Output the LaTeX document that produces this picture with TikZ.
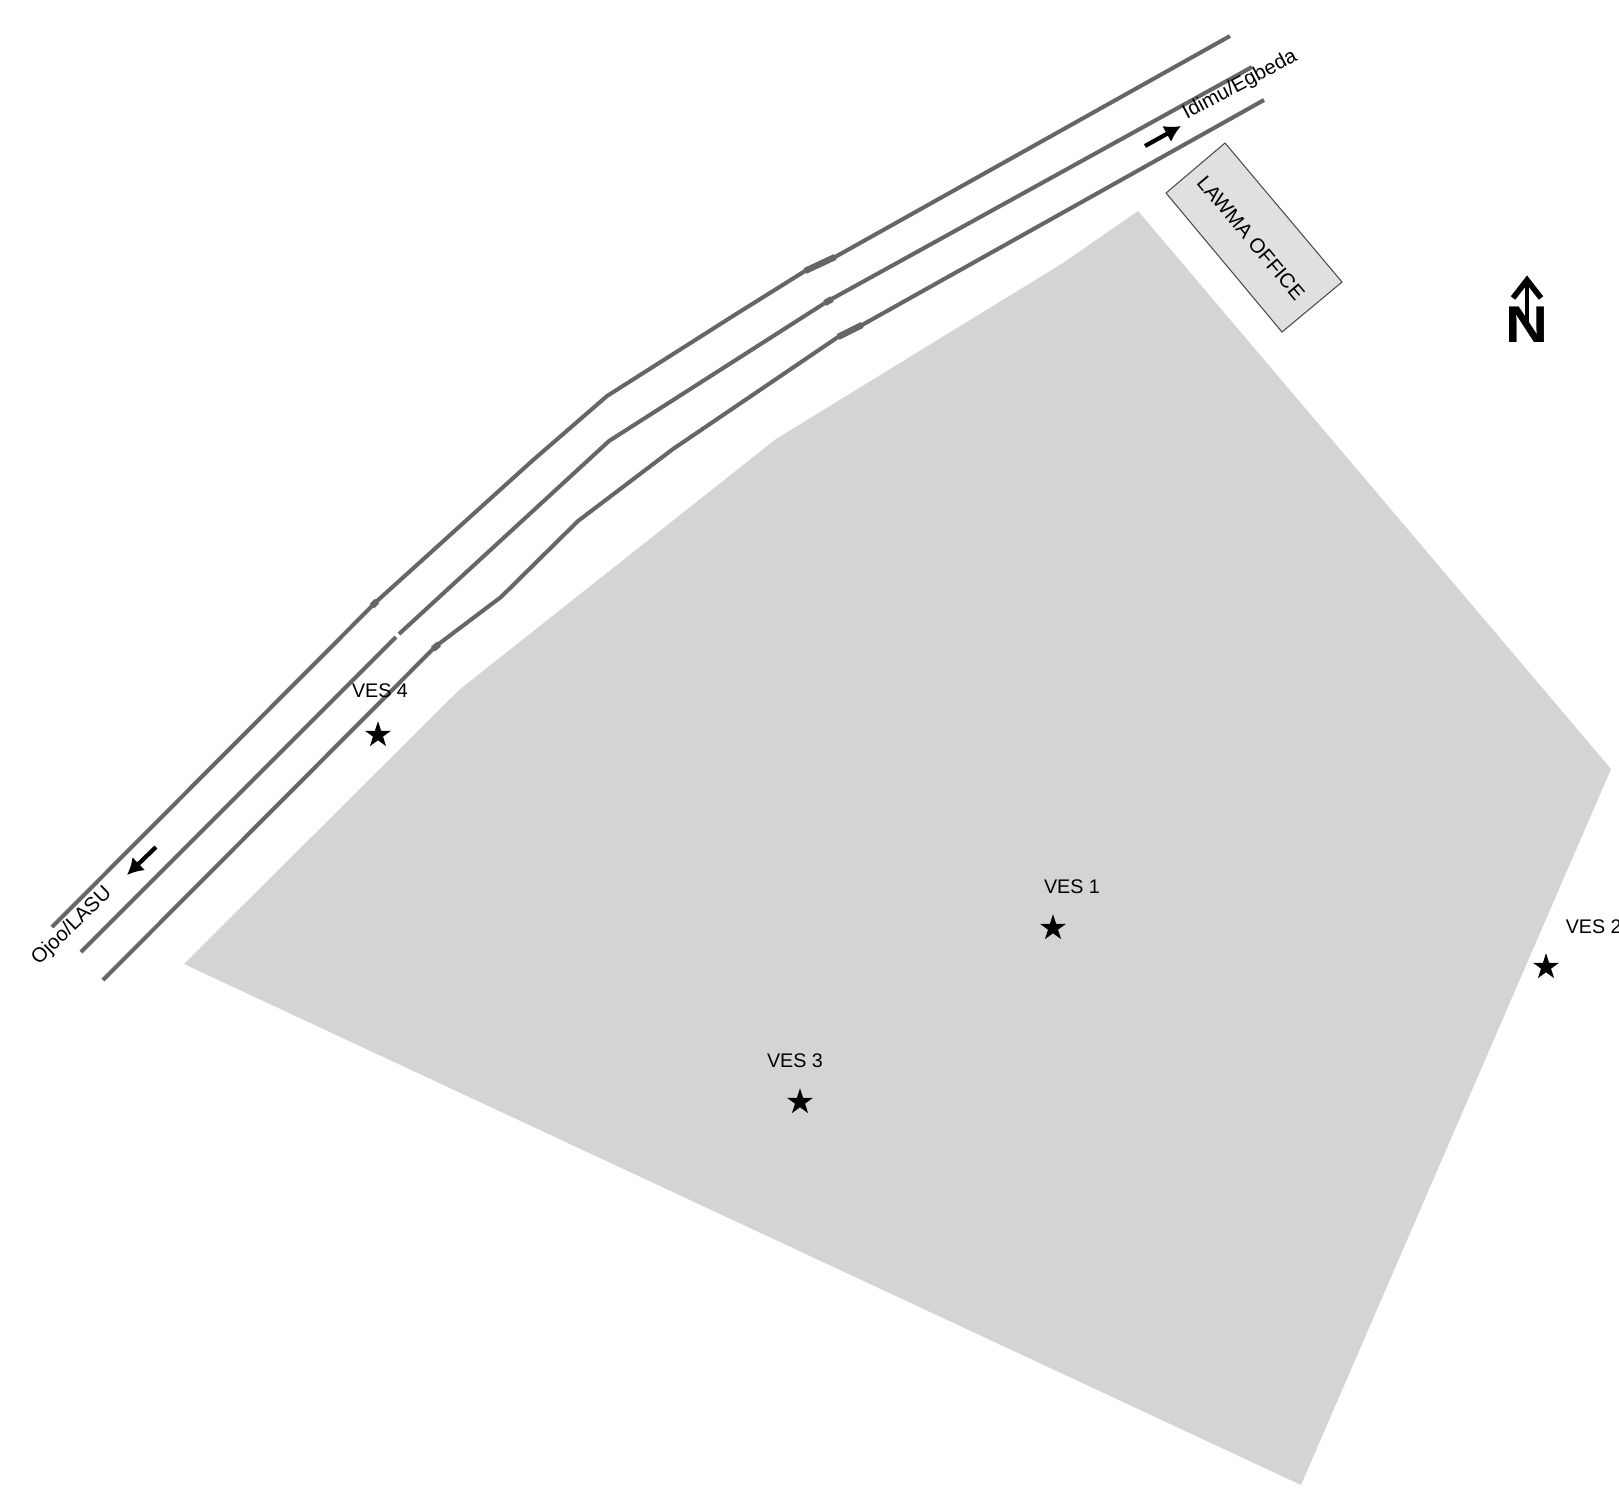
\documentclass[tikz,border=0pt]{standalone}
\usepackage{fontspec}
\setmainfont{Liberation Sans}
\usetikzlibrary{arrows.meta,shapes.geometric}
\tikzset{
  road/.style={draw=black!60,line width=1.15pt},
  roadjoint/.style={draw=black!60,line width=1.8pt},
  vesstar/.style={star,star points=5,star point ratio=2.618,fill=black,inner sep=0pt,minimum size=0.275cm},
  sitelabel/.style={font=\fontsize{5.6}{7}\selectfont,inner sep=0pt},
  maplabel/.style={font=\fontsize{5.8}{7}\selectfont,inner sep=0pt},
  direction/.style={line width=1.2pt,-{Latex[length=4.6pt,width=5.2pt]}}
}
\begin{document}
\begin{tikzpicture}
[x=0.01cm,y=-0.01cm,line width=1pt]
\useasboundingbox (0,0) rectangle (1619,1508);
\fill[black!17] (1138,211)--(1611,769)--(1301,1485)--(184,964)--(459,690)--(776,439)--(1063,263)--cycle; %% Site
\draw[road] (52,927)--(377,601)--(532,461)--(607,396)--(733,316)--(805,271)--(835,257)--(1230,36); %% Road top
\draw[road] (81,952)--(396,637); %% Road middle, south
\draw[road] (399,634)--(609,441)--(828,301)--(1252,67); %% Road middle, north
\draw[road] (103,980)--(436,646)--(501,597)--(578,521)--(673,449)--(838,337)--(862,325)--(1264,100); %% Road bottom
\draw[roadjoint] (805,271)--(835,257); %% Joint top
\draw[roadjoint] (838,337)--(862,325); %% Joint bottom
\draw[roadjoint] (825,303)--(832,299); %% Joint middle
\draw[roadjoint] (372,606)--(377,601); %% Joint top, south
\draw[roadjoint] (433,649)--(439,644); %% Joint bottom, south
\draw[direction] (1145,146)--(1181,126); %% To Idimu
\draw[direction] (156,847)--(127,875); %% To Ojoo
\node[maplabel,rotate=28] (idimu) at (1240,85) {Idimu/Egbeda};
\node[maplabel,rotate=44] (ojoo) at (72,926) {Ojoo/LASU};
\draw[draw=black!70,fill=black!12,line width=0.3pt] (1225,143)--(1342,282)--(1282,332)--(1166,193)--cycle; %% Office
\node[maplabel,rotate=-50] (office) at (1251,238) {LAWMA OFFICE};
\node[vesstar] (star1) at (1053,928) {};
\node[vesstar] (star2) at (1546,967) {};
\node[vesstar] (star3) at (800,1102) {};
\node[vesstar] (star4) at (378,735) {};
\node[sitelabel] (ves1) at (1072,887) {VES 1};
\node[sitelabel,right] (ves2) at (1564,927) {VES 2};
\node[sitelabel] (ves3) at (795,1061) {VES 3};
\node[sitelabel] (ves4) at (380,691) {VES 4};
\node[inner sep=0pt,xscale=1.15,font=\fontsize{14.7}{15}\selectfont\bfseries] (north) at (1526.5,325) {N};
\draw[line width=1.2pt] (1527,323)--(1527,280); %% North shaft
\draw[line width=1.6pt,miter limit=10] (1513,298)--(1527,280)--(1541,298); %% North head
\end{tikzpicture}
\end{document}
